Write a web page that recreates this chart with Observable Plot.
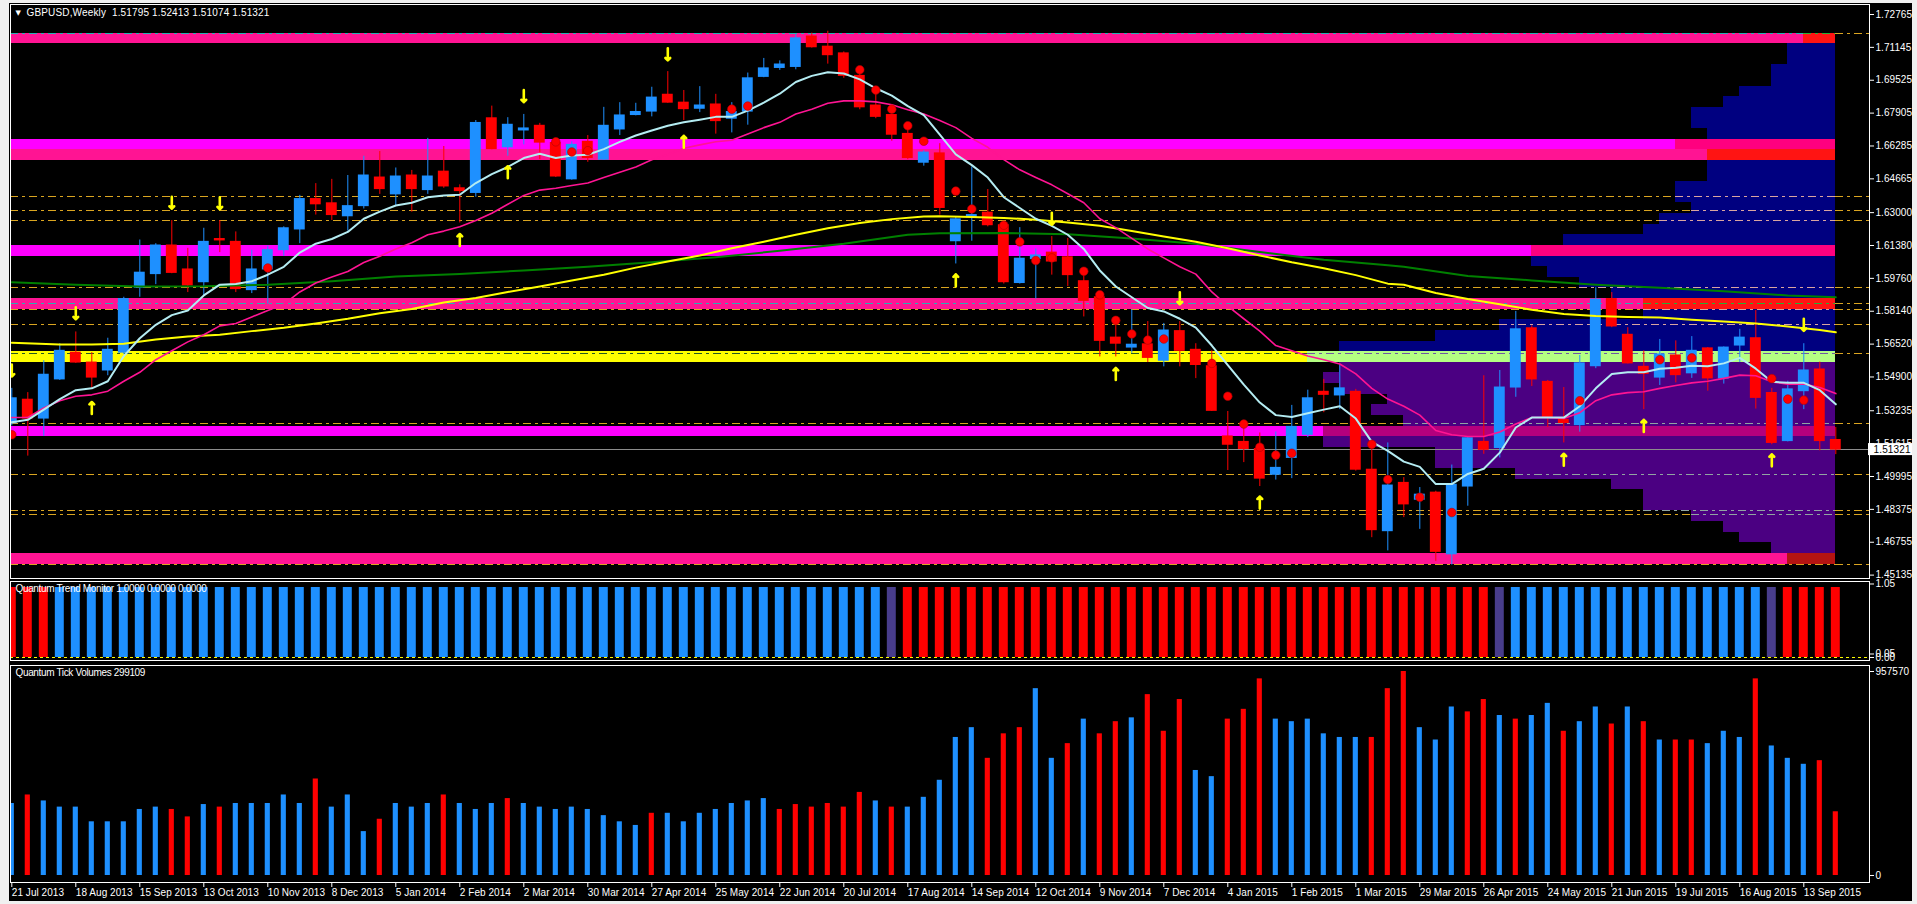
<!DOCTYPE html>
<html><head><meta charset="utf-8">
<script src="https://cdn.jsdelivr.net/npm/d3@7"></script>
<script src="https://cdn.jsdelivr.net/npm/@observablehq/plot@0.6"></script>
<style>
html,body{margin:0;padding:0;}
body{width:1917px;height:904px;background:#f0f0f0;position:relative;overflow:hidden;}
#bg{position:absolute;left:9px;top:3px;width:1903px;height:898px;background:#000;}
.panel{position:absolute;left:0;}
.panel svg{display:block;overflow:visible;}
</style></head><body>
<div id="bg"></div>
<div id="main" class="panel" style="top:0"></div>
<div id="trend" class="panel" style="top:579px"></div>
<div id="vol" class="panel" style="top:663px"></div>
<script>
// ---------------- DATA ----------------
const symbol = "GBPUSD", period = "Weekly";
const dateLabels = ["21 Jul 2013","18 Aug 2013","15 Sep 2013","13 Oct 2013","10 Nov 2013","8 Dec 2013","5 Jan 2014","2 Feb 2014","2 Mar 2014","30 Mar 2014","27 Apr 2014","25 May 2014","22 Jun 2014","20 Jul 2014","17 Aug 2014","14 Sep 2014","12 Oct 2014","9 Nov 2014","7 Dec 2014","4 Jan 2015","1 Feb 2015","1 Mar 2015","29 Mar 2015","26 Apr 2015","24 May 2015","21 Jun 2015","19 Jul 2015","16 Aug 2015","13 Sep 2015"];
const priceTicks = [1.72765,1.71145,1.69525,1.67905,1.66285,1.64665,1.63000,1.61380,1.59760,1.58140,1.56520,1.54900,1.53235,1.51615,1.49995,1.48375,1.46755,1.45135];

const open  = [1.5262,1.5378,1.5285,1.5478,1.5610,1.5561,1.5522,1.5610,1.5930,1.5997,1.6138,1.6020,1.5957,1.6170,1.6156,1.5918,1.6020,1.6115,1.6217,1.6367,1.6346,1.6282,1.6332,1.6473,1.6390,1.6483,1.6411,1.6502,1.6420,1.6397,1.6765,1.6622,1.6705,1.6728,1.6643,1.6464,1.6649,1.6561,1.6710,1.6781,1.6798,1.6881,1.6842,1.6812,1.6833,1.6763,1.6798,1.6969,1.7013,1.7018,1.7168,1.7118,1.7085,1.6974,1.6828,1.6781,1.6688,1.6546,1.6592,1.6159,1.6277,1.6300,1.6238,1.5953,1.6071,1.6103,1.6080,1.5962,1.5883,1.5684,1.5635,1.5651,1.5570,1.5716,1.5624,1.5543,1.5197,1.5170,1.5135,1.5008,1.5091,1.5205,1.5417,1.5399,1.5417,1.5033,1.4730,1.4968,1.4885,1.4920,1.4616,1.4950,1.5170,1.5140,1.5438,1.5730,1.5466,1.5279,1.5253,1.5543,1.5874,1.5698,1.5540,1.5487,1.5596,1.5508,1.5631,1.5482,1.5645,1.5681,1.5411,1.5174,1.5420,1.5527,1.51795];
const high  = [1.5434,1.5413,1.5570,1.5654,1.5712,1.5610,1.5681,1.5883,1.6165,1.6147,1.6261,1.6124,1.6223,1.6261,1.6205,1.6115,1.6135,1.6230,1.6385,1.6443,1.6464,1.6483,1.6578,1.6601,1.6520,1.6508,1.6666,1.6626,1.6437,1.6754,1.6825,1.6768,1.6784,1.6740,1.6666,1.6649,1.6680,1.6819,1.6842,1.6839,1.6918,1.6995,1.6902,1.6921,1.6883,1.6842,1.6988,1.7060,1.7048,1.7177,1.7185,1.7194,1.7092,1.6983,1.6886,1.6786,1.6742,1.6605,1.6640,1.6279,1.6525,1.6414,1.6253,1.6226,1.6121,1.6182,1.6173,1.6015,1.5909,1.5769,1.5821,1.5763,1.5754,1.5763,1.5654,1.5619,1.5320,1.5276,1.5214,1.5219,1.5350,1.5425,1.5478,1.5549,1.5429,1.5174,1.5165,1.4994,1.4945,1.4927,1.5056,1.5191,1.5496,1.5522,1.5813,1.5742,1.5473,1.5438,1.5596,1.5930,1.5906,1.5733,1.5619,1.5675,1.5668,1.5689,1.5635,1.5638,1.5725,1.5818,1.5434,1.5469,1.5654,1.5563,1.52413];
const low   = [1.5249,1.5100,1.5197,1.5473,1.5557,1.5434,1.5496,1.5601,1.5883,1.5945,1.5999,1.5906,1.5892,1.6103,1.5906,1.5901,1.5848,1.6085,1.6147,1.6288,1.6261,1.6209,1.6318,1.6390,1.6332,1.6302,1.6390,1.6420,1.6249,1.6376,1.6610,1.6578,1.6634,1.6561,1.6473,1.6460,1.6548,1.6557,1.6680,1.6777,1.6772,1.6839,1.6754,1.6793,1.6687,1.6693,1.6731,1.6965,1.7001,1.7004,1.7111,1.7032,1.6962,1.6807,1.6763,1.6652,1.6561,1.6529,1.6288,1.6047,1.6159,1.6230,1.5948,1.5948,1.5874,1.5992,1.5936,1.5786,1.5589,1.5589,1.5607,1.5561,1.5540,1.5540,1.5482,1.5320,1.5029,1.5068,1.4950,1.4982,1.4989,1.5191,1.5314,1.5329,1.5026,1.4698,1.4633,1.4797,1.4739,1.4581,1.4563,1.4853,1.5109,1.5091,1.5390,1.5443,1.5241,1.5165,1.5218,1.5531,1.5733,1.5554,1.5329,1.5448,1.5461,1.5483,1.5420,1.5455,1.5561,1.5332,1.5156,1.5170,1.5329,1.5126,1.51074];
const close = [1.5385,1.5285,1.5501,1.5619,1.5561,1.5487,1.5624,1.5874,1.6004,1.6138,1.6003,1.5941,1.6156,1.6163,1.5923,1.6020,1.6115,1.6223,1.6367,1.6341,1.6288,1.6332,1.6483,1.6416,1.6478,1.6416,1.6478,1.6429,1.6406,1.6742,1.6613,1.6733,1.6715,1.6645,1.6478,1.6634,1.6569,1.6728,1.6779,1.6796,1.6867,1.6842,1.6810,1.6828,1.6751,1.6796,1.6962,1.7011,1.7030,1.7159,1.7115,1.7076,1.6974,1.6819,1.6772,1.6684,1.6569,1.6596,1.6323,1.6267,1.6288,1.6238,1.5957,1.6073,1.6089,1.6059,1.5992,1.5865,1.5668,1.5654,1.5649,1.5584,1.5719,1.5619,1.5549,1.5323,1.5156,1.5135,1.4989,1.5042,1.5244,1.5385,1.5402,1.5434,1.5033,1.4735,1.4955,1.4862,1.4910,1.4628,1.4959,1.5188,1.5131,1.5438,1.5725,1.5478,1.5293,1.5263,1.5557,1.5871,1.5739,1.5557,1.5505,1.5601,1.5499,1.5619,1.5483,1.5635,1.5684,1.5387,1.5165,1.5429,1.5522,1.5174,1.51321];

// fast (light cyan) and medium (pink) moving averages, one value per bar
const maFast = [1.5267,1.5279,1.5329,1.5381,1.5425,1.5434,1.5469,1.5593,1.5681,1.5747,1.5795,1.5818,1.5892,1.5945,1.5948,1.5962,1.5994,1.6033,1.6103,1.6147,1.6170,1.6205,1.6270,1.6305,1.6335,1.6349,1.6376,1.6385,1.6388,1.6446,1.6490,1.6525,1.6569,1.6590,1.6569,1.6582,1.6585,1.6613,1.6649,1.6680,1.6705,1.6728,1.6745,1.6758,1.6772,1.6772,1.6803,1.6842,1.6886,1.6944,1.6974,1.6992,1.6986,1.6957,1.6913,1.6877,1.6825,1.6781,1.6684,1.6587,1.6534,1.6473,1.6376,1.6323,1.6270,1.6235,1.6191,1.6121,1.6015,1.5936,1.5883,1.5830,1.5813,1.5777,1.5733,1.5645,1.5549,1.5452,1.5364,1.5302,1.5293,1.5311,1.5329,1.5346,1.5285,1.5170,1.5126,1.5073,1.5047,1.4962,1.4962,1.5012,1.5038,1.5117,1.5241,1.5290,1.5290,1.5290,1.5346,1.5434,1.5505,1.5513,1.5513,1.5531,1.5536,1.5545,1.5543,1.5557,1.5584,1.5531,1.5466,1.5461,1.5461,1.5425,1.5355];
const maMid  = [1.5290,1.5290,1.5337,1.5373,1.5395,1.5402,1.5420,1.5469,1.5513,1.5575,1.5619,1.5663,1.5698,1.5742,1.5754,1.5786,1.5818,1.5848,1.5909,1.5953,1.5983,1.6010,1.6054,1.6085,1.6121,1.6152,1.6191,1.6209,1.6230,1.6261,1.6297,1.6341,1.6385,1.6411,1.6420,1.6434,1.6446,1.6473,1.6499,1.6525,1.6561,1.6587,1.6617,1.6634,1.6649,1.6657,1.6687,1.6719,1.6745,1.6786,1.6810,1.6839,1.6851,1.6851,1.6846,1.6832,1.6807,1.6786,1.6754,1.6719,1.6666,1.6622,1.6561,1.6511,1.6473,1.6437,1.6393,1.6349,1.6270,1.6226,1.6173,1.6121,1.6077,1.6033,1.5997,1.5909,1.5839,1.5777,1.5716,1.5645,1.5619,1.5593,1.5575,1.5554,1.5505,1.5434,1.5381,1.5346,1.5302,1.5226,1.5205,1.5197,1.5197,1.5219,1.5258,1.5290,1.5290,1.5285,1.5314,1.5373,1.5402,1.5413,1.5417,1.5434,1.5448,1.5461,1.5469,1.5483,1.5499,1.5496,1.5466,1.5455,1.5455,1.5438,1.5408];
// slow (yellow) and long (green) moving averages, read at selected bars
const maSlowBars = [0,3,5,7,9,11,13,15,17,19,21,23,25,27,29,31,33,35,37,39,41,43,45,47,49,51,53,55,57,58,60,62,64,66,68,70,72,74,76,78,80,82,84,86,87,89,91,93,95,97,99,101,103,105,107,109,111,113,114];
const maSlow     = [1.5659,1.5650,1.5650,1.5654,1.5675,1.5689,1.5698,1.5716,1.5733,1.5754,1.5777,1.5804,1.5825,1.5857,1.5879,1.5909,1.5936,1.5966,1.5994,1.6029,1.6059,1.6089,1.6124,1.6156,1.6191,1.6223,1.6249,1.6268,1.6281,1.6282,1.6279,1.6274,1.6265,1.6251,1.6235,1.6209,1.6182,1.6156,1.6124,1.6089,1.6055,1.6026,1.5992,1.5950,1.5945,1.5904,1.5874,1.5848,1.5821,1.5800,1.5791,1.5786,1.5783,1.5772,1.5763,1.5754,1.5739,1.5721,1.5710];
const maLongBars = [0,4,8,12,16,20,24,28,32,36,40,44,48,52,56,58,62,66,70,74,78,82,86,87,91,95,99,103,107,111,114];
const maLong     = [1.5957,1.5945,1.5936,1.5937,1.5945,1.5962,1.5985,1.5997,1.6015,1.6033,1.6055,1.6080,1.6112,1.6147,1.6191,1.6198,1.6200,1.6194,1.6173,1.6147,1.6106,1.6068,1.6041,1.6033,1.5988,1.5966,1.5945,1.5930,1.5913,1.5892,1.5883];

// signal dots: c = cyan, w = white, r = red, . = none
const dotKind  = "rccccccccccccwwwrwcccccccccwwcccccrrrwcccccc.rrccccccrrrrr.rr.rrrr.rrrrrr.wrrrrrrccccrr.r.rwcccccwrwcccr.rwwwwrrr.w";
const dotPrice = [1.5205,1.5279,1.5355,1.5425,1.5540,1.5566,1.5578,1.5642,1.5809,1.5967,1.6071,1.6061,1.6068,1.6094,1.6099,1.6077,1.6027,1.6082,1.6173,1.6282,1.6335,1.6353,1.6385,1.6432,1.6464,1.6448,1.6466,1.6480,1.6464,1.6504,1.6564,1.6675,1.6701,1.6691,1.6649,1.6599,1.6605,1.6636,1.6696,1.6761,1.6810,1.6854,1.6860,1.6860,null,1.6810,1.6825,1.6898,1.6972,1.7045,1.7092,1.7120,1.7085,1.7004,1.6904,1.6810,1.6728,1.6652,null,1.6406,1.6318,null,1.6238,1.6156,1.6064,1.6077,null,1.6011,1.5895,1.5769,1.5702,1.5672,1.5677,null,1.5637,1.5557,1.5395,1.5258,1.5144,1.5105,1.5114,1.5209,1.5316,1.5395,1.5343,1.5158,1.4985,null,1.4897,null,1.4822,1.4897,1.5065,1.5226,1.5420,1.5522,1.5519,1.5404,1.5373,1.5508,1.5672,1.5730,1.5637,1.5575,null,1.5584,1.5561,1.5575,1.5593,1.5593,1.5482,1.5381,1.5376,null,1.5329];

// yellow signal arrows
const arrowBar   = [0,4,5,10,13,28,31,32,41,42,59,65,69,73,78,97,102,110,112];
const arrowDir   = ["d","d","u","d","d","u","u","d","d","u","u","d","u","d","u","u","u","u","d"];
const arrowPrice = [1.5522,1.5804,1.5337,1.6349,1.6346,1.6165,1.6499,1.6874,1.7080,1.6649,1.5966,1.6270,1.5505,1.5878,1.4871,1.5082,1.5249,1.5079,1.5747];

// volume profile (rows top->bottom), volume in bar-widths
const profileEdges = [1.71853,1.71330,1.70806,1.70283,1.69759,1.69236,1.68712,1.68189,1.67665,1.67142,1.66618,1.66095,1.65571,1.65048,1.64524,1.64001,1.63477,1.62954,1.62430,1.61907,1.61383,1.60860,1.60336,1.59813,1.59289,1.58766,1.58242,1.57719,1.57195,1.56672,1.56148,1.55625,1.55101,1.54578,1.54054,1.53531,1.53007,1.52484,1.51960,1.51437,1.50913,1.50390,1.49866,1.49343,1.48819,1.48296,1.47772,1.47249,1.46725,1.46202,1.45678];
const profileVol   = [2,3,3,4,4,6,7,9,9,8,10,8,8,8,10,10,9,11,12,17,19,19,18,16,14,12,12,21,25,31,33,31,32,31,28,29,27,32,32,25,25,20,14,12,12,9,7,6,4,3];
const profileSplit = 1.56148;   // rows at/below this top price are the lower zone
// support / resistance zones = profile rows
const bandRows = [0,10,11,20,25,30,37,49];
const bandKind = ["pink","magenta","pink","magenta","pink","yellow","magenta","pink"];
// dashed levels
const levels = [1.71850,1.63791,1.63087,1.62594,1.59302,1.58510,1.58211,1.57472,1.56046,1.52630,1.50079,1.48301,1.48125,1.45670];

// Quantum Trend Monitor state per bar (R = down, B = up, P = neutral)
const trendState = "RRRBBBBBBBBBBBBBBBBBBBBBBBBBBBBBBBBBBBBBBBBBBBBBBBBBBBBPRRRRRRRRRRRRRRRRRRRRRRRRRRRRRRRRRRRRRPBBBBBBBBBBBBBBBBPRRRR";
const trendValues = [1.0000, 0.0000, 0.0000];

// Quantum Tick Volumes
const tickVol = [338000,378000,350000,321000,321000,252000,252000,252000,310000,321000,310000,275000,333000,321000,338000,338000,338000,378000,338000,453000,321000,378000,206000,264000,338000,321000,338000,378000,338000,310000,338000,361000,338000,321000,310000,321000,310000,281000,252000,235000,292000,292000,252000,292000,310000,338000,350000,361000,310000,333000,321000,338000,321000,390000,350000,321000,321000,367000,447000,648000,694000,550000,665000,694000,877000,550000,619000,734000,665000,722000,740000,849000,677000,826000,493000,464000,734000,780000,923000,734000,722000,734000,665000,648000,648000,648000,877000,957570,694000,636000,791000,768000,826000,751000,734000,751000,808000,677000,722000,791000,711000,791000,722000,636000,636000,636000,619000,677000,648000,923000,608000,550000,522000,539000,299109];
const volDir  = "BRBBBBBBBBRRBRBBBBBRBBBRBBBRBBBRBBBBBBBBRBBBBBBBRRRRRRBRBBBBBRRRBBRBRRBRRRBBRRRBBBBBBRRRBBBRRBRBBRBBRBRBRRBBBRBBBRR";
const volAxisTicks = [0, 957570];

// ---------------- STYLE ----------------
const W = 1917;
const UP = "#1e90ff", DN = "#ff0000", GOLD = "#daa520";
const NAVY = "#000080", INDIGO = "#4b0082";
const bandPalette = {pink: "#ff1493", magenta: "#ff00ff", yellow: "#ffff00"};
const dotPalette = {c: "#00f2f2", w: "#ffffff", r: "#ff0000"};
const trendPalette = {R: "#ff0000", B: "#1e90ff", P: "#483d8b"};
const font = "'Liberation Sans', Arial, sans-serif";
const baseStyle = {background: "transparent", color: "white", fontFamily: font, fontSize: "10px", letterSpacing: "0.05px", overflow: "visible"};
const N = close.length, LAST = N - 1;
const xDomain = [-0.08125, 116.106];

function xorHex(a, b) {
  const A = d3.rgb(a), B = d3.rgb(b);
  return d3.rgb(A.r ^ B.r, A.g ^ B.g, A.b ^ B.b).formatHex();
}
function spacing(svg, px) {
  svg.querySelectorAll('g[aria-label="text"]').forEach(g => g.style.letterSpacing = px);
}

const bars = d3.range(N).map(i => ({i, o: open[i], h: high[i], l: low[i], c: close[i], up: close[i] >= open[i]}));
const rows = profileVol.map((v, k) => {
  const bi = bandRows.indexOf(k);
  const band = bi >= 0 ? bandPalette[bandKind[bi]] : null;
  const top = profileEdges[k], bot = profileEdges[k + 1];
  const base = top <= profileSplit + 1e-9 ? INDIGO : NAVY;
  return {k, top, bot, vol: v, band, fill: xorHex(base, band || "#000000")};
});
const rowOf = p => rows.find(r => p < r.top && p >= r.bot);
const levelSegs = [];
for (const p of levels) {
  const r = rowOf(p);
  if (r) {
    const xp = LAST - r.vol;
    levelSegs.push({y: p, x1: xDomain[0], x2: xp, c: xorHex(GOLD, r.band || "#000000")});
    levelSegs.push({y: p, x1: xp, x2: LAST, c: xorHex(GOLD, r.fill)});
  } else {
    levelSegs.push({y: p, x1: xDomain[0], x2: LAST, c: GOLD});
  }
  levelSegs.push({y: p, x1: LAST, x2: xDomain[1], c: GOLD});
}
const dots = bars.filter(b => dotKind[b.i] !== "." && dotPrice[b.i] != null).map(b => ({i: b.i, p: dotPrice[b.i], k: dotKind[b.i]}));
const arrows = arrowBar.map((b, k) => ({i: b, p: arrowPrice[k], d: arrowDir[k]}));
const fastLine = maFast.map((v, i) => ({x: i, y: v}));
const midLine = maMid.map((v, i) => ({x: i, y: v}));
const slowLine = maSlowBars.map((b, k) => ({x: b, y: maSlow[k]}));
const longLine = maLongBars.map((b, k) => ({x: b, y: maLong[k]}));
const fmt5 = d => d.toFixed(5);
const header = `${symbol},${period}  ${fmt5(open[LAST])} ${fmt5(high[LAST])} ${fmt5(low[LAST])} ${fmt5(close[LAST])}`;

// ---------------- MAIN PANEL ----------------
const main = Plot.plot({
  width: W, height: 580,
  marginLeft: 10, marginRight: 48, marginTop: 4, marginBottom: 2,
  x: {domain: xDomain, axis: null},
  y: {domain: [1.44968, 1.73258], label: null},
  color: {type: "identity"},
  style: baseStyle,
  marks: [
    Plot.rect(rows.filter(r => r.band), {x1: () => xDomain[0], x2: () => LAST, y1: "bot", y2: "top", fill: "band", shapeRendering: "crispEdges", clip: true}),
    Plot.rect(rows.filter(r => r.vol > 0), {x1: r => LAST - r.vol, x2: () => LAST, y1: "bot", y2: "top", fill: "fill", shapeRendering: "crispEdges", clip: true}),
    Plot.ruleY(levelSegs, {y: "y", x1: "x1", x2: "x2", stroke: "c", strokeWidth: 1, strokeDasharray: "8,4,3,4", shapeRendering: "crispEdges", clip: true}),
    Plot.ruleY([close[LAST]], {stroke: "#8c8c8c", strokeWidth: 1, shapeRendering: "crispEdges"}),
    Plot.ruleX(bars, {x: "i", y1: "l", y2: "h", stroke: d => d.up ? UP : DN, strokeWidth: 1, clip: true}),
    Plot.rect(bars, {x1: d => d.i - 0.34, x2: d => d.i + 0.34, y1: "o", y2: "c", fill: d => d.up ? UP : DN, insetTop: -0.5, insetBottom: -0.5, clip: true}),
    Plot.line(longLine, {x: "x", y: "y", stroke: "#008000", strokeWidth: 2, clip: true}),
    Plot.line(slowLine, {x: "x", y: "y", stroke: "#ffff00", strokeWidth: 2, clip: true}),
    Plot.line(midLine, {x: "x", y: "y", stroke: "#ff1493", strokeWidth: 1.6, clip: true}),
    Plot.line(fastLine, {x: "x", y: "y", stroke: "#b4ecf2", strokeWidth: 2, clip: true}),
    Plot.dot(dots, {x: "i", y: "p", r: 4.3, fill: d => dotPalette[d.k], stroke: d => d.k === "r" ? "#b00000" : null, strokeWidth: 0.6, clip: true}),
    Plot.vector(arrows, {x: "i", y: "p", length: 12, rotate: d => d.d === "u" ? 0 : 180, anchor: "middle", stroke: "#ffff00", strokeWidth: 2.6, clip: true}),
    Plot.axisY({ticks: priceTicks, anchor: "right", label: null, tickSize: 4, tickPadding: 2, tickFormat: fmt5}),
    Plot.rect([close[LAST]], {x1: () => xDomain[1], x2: () => xDomain[1], y1: d => d, y2: d => d, insetLeft: -1, insetRight: -43, insetTop: -6, insetBottom: -6, fill: "white"}),
    Plot.text([close[LAST]], {x: () => xDomain[1], y: d => d, text: fmt5, textAnchor: "start", dx: 4, fill: "black"}),
    Plot.frame({stroke: "white"}),
    Plot.text(["\u25BC"], {frameAnchor: "top-left", dx: 5, dy: 6, lineAnchor: "top", fontSize: 7, fontFamily: "DejaVu Sans", fill: "white"}),
    Plot.text([header], {frameAnchor: "top-left", dx: 16, dy: 4, lineAnchor: "top", textAnchor: "start", fill: "white"})
  ]
});
document.getElementById("main").appendChild(main);
spacing(main, "0.15px");

// ---------------- TREND MONITOR ----------------
const trendData = bars.map(b => ({i: b.i, v: trendValues[0], s: trendState[b.i]}));
const trend = Plot.plot({
  width: W, height: 84,
  marginLeft: 10, marginRight: 48, marginTop: 2, marginBottom: 3,
  x: {domain: xDomain, axis: null},
  y: {domain: [-0.0429, 1.0857], label: null},
  color: {type: "identity"},
  style: baseStyle,
  marks: [
    Plot.rect(trendData, {x1: d => d.i - 0.28, x2: d => d.i + 0.28, y1: () => 0, y2: "v", fill: d => trendPalette[d.s], clip: true}),
    Plot.ruleY([0], {stroke: "#ffff00", strokeDasharray: "3,3"}),
    Plot.axisY({ticks: [0, 0.05, 1.05], anchor: "right", label: null, tickSize: 4, tickPadding: 2, tickFormat: d => d.toFixed(2)}),
    Plot.frame({stroke: "white"}),
    Plot.text([`Quantum Trend Monitor ${trendValues.map(v => v.toFixed(4)).join(" ")}`], {frameAnchor: "top-left", dx: 5, dy: 3, lineAnchor: "top", textAnchor: "start", fill: "white"})
  ]
});
document.getElementById("trend").appendChild(trend);
spacing(trend, "-0.35px");

// ---------------- TICK VOLUMES ----------------
const volData = bars.map(b => ({i: b.i, v: tickVol[b.i], s: volDir[b.i]}));
const vol = Plot.plot({
  width: W, height: 238,
  marginLeft: 10, marginRight: 48, marginTop: 2, marginBottom: 19,
  x: {domain: xDomain, label: null},
  y: {domain: [-32858, 985734], label: null},
  color: {type: "identity"},
  style: baseStyle,
  marks: [
    Plot.rect(volData, {x1: d => d.i - 0.16, x2: d => d.i + 0.16, y1: () => 0, y2: "v", fill: d => d.s === "B" ? UP : DN, clip: true}),
    Plot.axisY({ticks: volAxisTicks, anchor: "right", label: null, tickSize: 4, tickPadding: 2, tickFormat: d => String(d)}),
    Plot.axisX({ticks: dateLabels.map((_, k) => k * 4), anchor: "bottom", label: null, tickSize: 5, tickPadding: 1, textAnchor: "start", tickFormat: d => dateLabels[d / 4]}),
    Plot.frame({stroke: "white"}),
    Plot.text([`Quantum Tick Volumes ${tickVol[LAST]}`], {frameAnchor: "top-left", dx: 5, dy: 3, lineAnchor: "top", textAnchor: "start", fill: "white"})
  ]
});
document.getElementById("vol").appendChild(vol);
spacing(vol, "-0.35px");
</script></body></html>
